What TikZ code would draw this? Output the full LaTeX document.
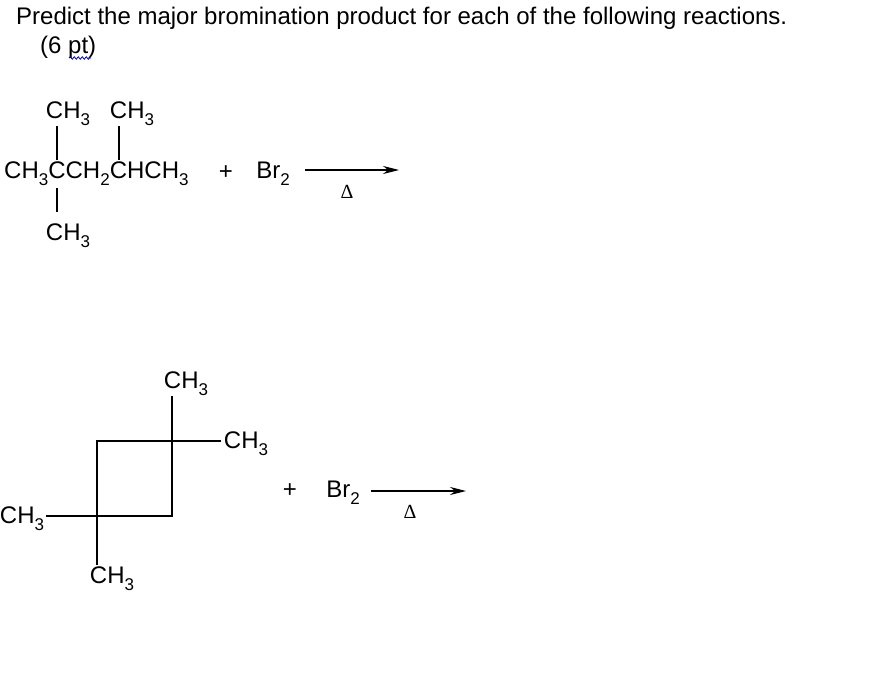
\documentclass[tikz,border=0pt]{standalone}
\usepackage{fontspec}
\setmainfont{Liberation Sans}
\newfontfamily\serifdelta{Liberation Serif}
\usetikzlibrary{decorations.pathmorphing,arrows.meta}
\newcommand\sbs[1]{\raisebox{-0.3em}{\fontsize{17}{18}\selectfont #1}}
\begin{document}
\begin{tikzpicture}[x=1pt,y=-1pt,
  txt/.style={inner sep=0pt,font=\fontsize{24}{28}\selectfont},
  chem/.style={inner sep=0pt,font=\fontsize{24}{28}\selectfont},
  dlt/.style={inner sep=0pt,font=\serifdelta\fontsize{20}{24}\selectfont},
  bond/.style={line width=1.1pt},
  rxn/.style={line width=1.1pt,-{Stealth[length=16pt,width=8pt]}}]
\useasboundingbox (0,0) rectangle (878,680);
\node[txt,anchor=west] (title) at (16,18) {Predict the major bromination product for each of the following reactions.};
\node[txt,anchor=west] (pts) at (40,47) {(6 pt)};
\draw[blue!70!black,line width=0.8pt,decorate,decoration={snake,amplitude=1.2pt,segment length=4pt}] (69,58) -- (91,58);
% reaction 1
\node[chem,anchor=west] (chain) at (4,174) {CH\sbs{3}CCH\sbs{2}CHCH\sbs{3}};
\node[chem] (m1) at (68,114) {CH\sbs{3}};
\node[chem] (m2) at (132,114) {CH\sbs{3}};
\node[chem] (m3) at (68,236) {CH\sbs{3}};
\coordinate (c1) at (57,160); \coordinate (c2) at (119,160);
\draw[bond] (57,126) -- (c1);
\draw[bond] (119,126) -- (c2);
\draw[bond] (57,188) -- (57,212);
\node[chem] (p1) at (226,173) {+};
\node[chem] (b1) at (273,174) {Br\sbs{2}};
\coordinate (a1s) at (305,170); \coordinate (a1e) at (399,170);
\draw[rxn] (a1s) -- (a1e);
\node[dlt] (d1) at (347,192) {Δ};
% reaction 2
\coordinate (q1) at (97,441); \coordinate (q2) at (172,441);
\coordinate (q3) at (172,516); \coordinate (q4) at (97,516);
\draw[bond] (q1) -- (q2) -- (q3) -- (q4) -- cycle;
\node[chem] (t1) at (186,384) {CH\sbs{3}};
\node[chem] (t2) at (246,444) {CH\sbs{3}};
\node[chem] (t3) at (22,519) {CH\sbs{3}};
\node[chem] (t4) at (112,579) {CH\sbs{3}};
\draw[bond] (q2) -- (172,396);
\draw[bond] (q2) -- (221,441);
\draw[bond] (q4) -- (46,516);
\draw[bond] (q4) -- (97,565);
\node[chem] (p2) at (290,491) {+};
\node[chem] (b2) at (343,493) {Br\sbs{2}};
\coordinate (a2s) at (371,491); \coordinate (a2e) at (466,491);
\draw[rxn] (a2s) -- (a2e);
\node[dlt] (d2) at (410,512) {Δ};
\end{tikzpicture}
\end{document}
